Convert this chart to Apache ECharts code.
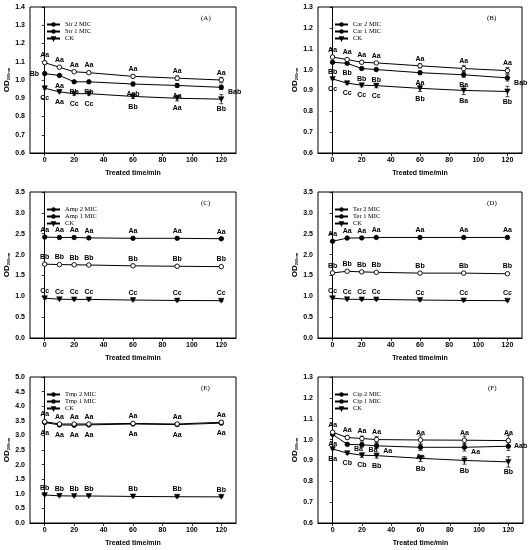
<!DOCTYPE html>
<html><head><meta charset="utf-8">
<script src="https://cdn.jsdelivr.net/npm/echarts@6/dist/echarts.min.js"></script>
<style>html,body{margin:0;padding:0;background:#fff}#c{width:529px;height:550px}</style>
</head><body><div id="c"></div>
<script>
// ---------- DATA ----------
const times = [0, 10, 20, 30, 60, 90, 120];
const xTicks = [0, 20, 40, 60, 80, 100, 120];
const panelTags = ['(A)', '(B)', '(C)', '(D)', '(E)', '(F)'];

// Panel A: Str
const A_names = ['Str 2 MIC', 'Str 1 MIC', 'CK'];
const A_mic2 = [1.035, 1.025, 0.99, 0.99, 0.978, 0.97, 0.96];
const A_mic1 = [1.095, 1.07, 1.045, 1.04, 1.02, 1.01, 1.0];
const A_ck   = [0.955, 0.935, 0.925, 0.925, 0.91, 0.9, 0.895];
const A_err2 = [0.004, 0.004, 0.005, 0.005, 0.01, 0.01, 0.012];
const A_err1 = [0.004, 0.004, 0.005, 0.005, 0.008, 0.012, 0.015];
const A_errCK= [0.004, 0.006, 0.008, 0.008, 0.012, 0.015, 0.025];
const A_lab2 = ['Bb', 'Aa', 'Bb', 'Bb', 'Aab', 'Aa', 'Bab'];
const A_lab1 = ['Aa', 'Aa', 'Aa', 'Aa', 'Aa', 'Aa', 'Aa'];
const A_labCK= ['Cc', 'Aa', 'Cc', 'Cc', 'Bb', 'Aa', 'Bb'];

// Panel B: Car
const B_names = ['Car 2 MIC', 'Car 1 MIC', 'CK'];
const B_mic2 = [1.035, 1.03, 1.005, 1.0, 0.985, 0.975, 0.96];
const B_mic1 = [1.06, 1.048, 1.035, 1.032, 1.018, 1.005, 0.995];
const B_ck   = [0.955, 0.935, 0.925, 0.923, 0.91, 0.9, 0.895];
const B_err2 = [0.004, 0.004, 0.005, 0.005, 0.008, 0.012, 0.015];
const B_err1 = [0.004, 0.004, 0.005, 0.005, 0.01, 0.015, 0.015];
const B_errCK= [0.004, 0.005, 0.008, 0.01, 0.015, 0.02, 0.025];
const B_lab2 = ['Bb', 'Bb', 'Bb', 'Bb', 'Aa', 'Ba', 'Bab'];
const B_lab1 = ['Aa', 'Aa', 'Aa', 'Aa', 'Aa', 'Aa', 'Aa'];
const B_labCK= ['Cc', 'Cc', 'Cc', 'Cc', 'Bb', 'Ba', 'Bb'];

// Panel C: Amp
const C_names = ['Amp 2 MIC', 'Amp 1 MIC', 'CK'];
const C_mic2 = [2.42, 2.41, 2.41, 2.40, 2.39, 2.39, 2.38];
const C_mic1 = [1.77, 1.76, 1.755, 1.75, 1.73, 1.72, 1.71];
const C_ck   = [0.955, 0.93, 0.925, 0.925, 0.91, 0.9, 0.895];
const C_err2 = [0.02, 0.02, 0.02, 0.02, 0.02, 0.02, 0.02];
const C_err1 = [0.02, 0.02, 0.02, 0.02, 0.02, 0.02, 0.02];
const C_errCK= [0.02, 0.02, 0.02, 0.02, 0.02, 0.02, 0.02];
const C_lab2 = ['Aa', 'Aa', 'Aa', 'Aa', 'Aa', 'Aa', 'Aa'];
const C_lab1 = ['Bb', 'Bb', 'Bb', 'Bb', 'Bb', 'Bb', 'Bb'];
const C_labCK= ['Cc', 'Cc', 'Cc', 'Cc', 'Cc', 'Cc', 'Cc'];

// Panel D: Ter
const D_names = ['Ter 2 MIC', 'Ter 1 MIC', 'CK'];
const D_mic2 = [2.32, 2.395, 2.40, 2.41, 2.41, 2.41, 2.41];
const D_mic1 = [1.56, 1.60, 1.585, 1.575, 1.555, 1.555, 1.54];
const D_ck   = [0.955, 0.93, 0.925, 0.925, 0.91, 0.9, 0.895];
const D_err2 = [0.02, 0.02, 0.02, 0.02, 0.02, 0.02, 0.02];
const D_err1 = [0.02, 0.02, 0.02, 0.02, 0.02, 0.02, 0.02];
const D_errCK= [0.02, 0.02, 0.02, 0.02, 0.02, 0.02, 0.02];
const D_lab2 = ['Aa', 'Aa', 'Aa', 'Aa', 'Aa', 'Aa', 'Aa'];
const D_lab1 = ['Bb', 'Bb', 'Bb', 'Bb', 'Bb', 'Bb', 'Bb'];
const D_labCK= ['Cc', 'Cc', 'Cc', 'Cc', 'Cc', 'Cc', 'Cc'];

// Panel E: Tmp
const E_names = ['Tmp 2 MIC', 'Tmp 1 MIC', 'CK'];
const E_mic2 = [3.44, 3.36, 3.35, 3.36, 3.39, 3.37, 3.42];
const E_mic1 = [3.47, 3.39, 3.39, 3.39, 3.41, 3.39, 3.45];
const E_ck   = [0.96, 0.93, 0.925, 0.925, 0.91, 0.9, 0.895];
const E_err2 = [0.03, 0.03, 0.03, 0.03, 0.03, 0.03, 0.03];
const E_err1 = [0.03, 0.03, 0.03, 0.03, 0.03, 0.03, 0.03];
const E_errCK= [0.02, 0.02, 0.02, 0.02, 0.02, 0.02, 0.02];
const E_lab2 = ['Aa', 'Aa', 'Aa', 'Aa', 'Aa', 'Aa', 'Aa'];
const E_lab1 = ['Aa', 'Aa', 'Aa', 'Aa', 'Aa', 'Aa', 'Aa'];
const E_labCK= ['Bb', 'Bb', 'Bb', 'Bb', 'Bb', 'Bb', 'Bb'];

// Panel F: Cip
const F_names = ['Cip 2 MIC', 'Cip 1 MIC', 'CK'];
const F_mic2 = [1.025, 0.977, 0.975, 0.97, 0.963, 0.963, 0.968];
const F_mic1 = [1.035, 1.01, 1.005, 1.0, 0.998, 0.997, 0.995];
const F_ck   = [0.955, 0.935, 0.925, 0.923, 0.91, 0.9, 0.893];
const F_err2 = [0.004, 0.006, 0.01, 0.012, 0.015, 0.018, 0.02];
const F_err1 = [0.004, 0.008, 0.012, 0.015, 0.02, 0.02, 0.025];
const F_errCK= [0.004, 0.006, 0.01, 0.012, 0.015, 0.018, 0.025];
const F_lab2 = ['Aa', 'Ba', 'Ba', 'Aa', 'Aa', 'Aa', 'Aab'];
const F_lab1 = ['Aa', 'Aa', 'Aa', 'Aa', 'Aa', 'Aa', 'Aa'];
const F_labCK= ['Ba', 'Cb', 'Cb', 'Bb', 'Bb', 'Bb', 'Bb'];

// ---------- LAYOUT / STYLE ----------
const T = n => Array(7).fill(n);
const panels = [
  { names: A_names, vals: [A_mic2, A_mic1, A_ck], errs: [A_err2, A_err1, A_errCK], labs: [A_lab2, A_lab1, A_labCK],
    pos: [['left','bottom','bottom','bottom','bottom','bottom','br'], T('top'), T('bottom')],
    y: [0.6, 1.4, 0.1], grid: { left: 30, top: 7, width: 206, height: 146 } },
  { names: B_names, vals: [B_mic2, B_mic1, B_ck], errs: [B_err2, B_err1, B_errCK], labs: [B_lab2, B_lab1, B_labCK],
    pos: [['bottom','bottom','bottom','bottom','bottom','bottom','br'], T('top'), T('bottom')],
    y: [0.6, 1.3, 0.1], grid: { left: 318, top: 7, width: 204, height: 146 } },
  { names: C_names, vals: [C_mic2, C_mic1, C_ck], errs: [C_err2, C_err1, C_errCK], labs: [C_lab2, C_lab1, C_labCK],
    pos: [T('top'), T('top'), T('top')],
    y: [0, 3.5, 0.5], grid: { left: 30, top: 192, width: 206, height: 146 } },
  { names: D_names, vals: [D_mic2, D_mic1, D_ck], errs: [D_err2, D_err1, D_errCK], labs: [D_lab2, D_lab1, D_labCK],
    pos: [T('top'), T('top'), T('top')],
    y: [0, 3.5, 0.5], grid: { left: 318, top: 192, width: 204, height: 146 } },
  { names: E_names, vals: [E_mic2, E_mic1, E_ck], errs: [E_err2, E_err1, E_errCK], labs: [E_lab2, E_lab1, E_labCK],
    pos: [T('bottom'), T('top'), T('top')],
    y: [0, 5.0, 0.5], grid: { left: 30, top: 377, width: 206, height: 146 } },
  { names: F_names, vals: [F_mic2, F_mic1, F_ck], errs: [F_err2, F_err1, F_errCK], labs: [F_lab2, F_lab1, F_labCK],
    pos: [['bottom','br','br','br','bottom','br','right'], T('top'), T('bottom')],
    y: [0.6, 1.3, 0.1], grid: { left: 318, top: 377, width: 205, height: 146 } }
];

const SANS = 'Liberation Sans, Arial, sans-serif';
const SERIF = 'Liberation Serif, Times New Roman, serif';
const triDown = 'path://M0,0 L10,0 L5,9 Z';
const symStyles = [
  { symbol: 'circle', symbolSize: 4.5, itemStyle: { color: '#000', borderColor: '#000', borderWidth: 0.8 } },
  { symbol: 'circle', symbolSize: 4.5, itemStyle: { color: '#fff', borderColor: '#000', borderWidth: 0.9 } },
  { symbol: triDown, symbolSize: [5.5, 5], itemStyle: { color: '#000', borderColor: '#000', borderWidth: 0.5 } }
];

function labelOpt(p) {
  if (p === 'br') return { position: 'right', offset: [-1, 5] };
  if (p === 'bottom') return { position: 'bottom', distance: 4 };
  if (p === 'top') return { position: 'top', distance: 1 };
  return { position: p, distance: 3 };
}

const option = {
  animation: false,
  backgroundColor: '#fff',
  grid: [], xAxis: [], yAxis: [], series: [], legend: [], title: []
};

panels.forEach((P, i) => {
  option.grid.push(Object.assign({ show: true, borderColor: '#000', borderWidth: 1, backgroundColor: 'transparent' }, P.grid));
  option.xAxis.push({
    type: 'value', gridIndex: i, min: -10, max: 130,
    name: 'Treated time/min', nameLocation: 'middle', nameGap: 17,
    nameTextStyle: { fontFamily: SANS, fontWeight: 'bold', fontSize: 7, color: '#000' },
    axisLine: { show: true, lineStyle: { color: '#000', width: 1 } },
    axisTick: { show: true, length: 3, customValues: xTicks, lineStyle: { color: '#000', width: 0.8 } },
    axisLabel: { customValues: xTicks, fontFamily: SANS, fontWeight: 'bold', fontSize: 7, color: '#000', margin: 4 },
    splitLine: { show: false }
  });
  option.yAxis.push({
    type: 'value', gridIndex: i, min: P.y[0], max: P.y[1], interval: P.y[2],
    name: 'OD{s|260nm}', nameLocation: 'middle', nameGap: 17,
    nameTextStyle: { fontFamily: SANS, fontWeight: 'bold', fontSize: 8, color: '#000',
      rich: { s: { fontFamily: SANS, fontWeight: 'bold', fontSize: 4, color: '#000', padding: [5, 0, 0, 0] } } },
    axisLine: { show: true, lineStyle: { color: '#000', width: 1 } },
    axisTick: { show: true, length: 3, lineStyle: { color: '#000', width: 0.8 } },
    axisLabel: { fontFamily: SANS, fontWeight: 'bold', fontSize: 7, color: '#000', margin: 5,
      formatter: v => v.toFixed(1) },
    splitLine: { show: false }
  });
  option.title.push({
    text: panelTags[i], left: P.grid.left + P.grid.width - 35, top: P.grid.top + 8,
    padding: 0,
    textStyle: { fontFamily: SERIF, fontWeight: 'normal', fontSize: 7, color: '#000' }
  });
  option.legend.push({
    data: P.names, orient: 'vertical', left: P.grid.left + 16, top: P.grid.top + 14,
    itemWidth: 13, itemHeight: 3, itemGap: 0, padding: 0, selectedMode: false,
    textStyle: { fontFamily: SERIF, fontSize: 6.5, color: '#000', lineHeight: 7 }
  });
  P.vals.forEach((vals, s) => {
    const errs = P.errs[s];
    // error bars
    option.series.push({
      type: 'custom', xAxisIndex: i, yAxisIndex: i, silent: true, z: 1,
      data: times.map((t, k) => [t, vals[k] - errs[k], vals[k] + errs[k]]),
      renderItem(params, api) {
        const lo = api.coord([api.value(0), api.value(1)]);
        const hi = api.coord([api.value(0), api.value(2)]);
        const w = 2, st = { stroke: '#000', lineWidth: 0.7 };
        return { type: 'group', children: [
          { type: 'line', shape: { x1: lo[0], y1: lo[1], x2: hi[0], y2: hi[1] }, style: st },
          { type: 'line', shape: { x1: lo[0] - w, y1: lo[1], x2: lo[0] + w, y2: lo[1] }, style: st },
          { type: 'line', shape: { x1: hi[0] - w, y1: hi[1], x2: hi[0] + w, y2: hi[1] }, style: st }
        ]};
      }
    });
    const labs = P.labs[s], pos = P.pos[s];
    option.series.push(Object.assign({
      type: 'line', name: P.names[s], xAxisIndex: i, yAxisIndex: i, z: 3,
      lineStyle: { color: '#000', width: 1 },
      label: { show: true, fontFamily: SANS, fontWeight: 'bold', fontSize: 7, color: '#000',
        formatter: p => labs[p.dataIndex] },
      data: times.map((t, k) => ({ value: [t, vals[k]], label: labelOpt(pos[k]) }))
    }, JSON.parse(JSON.stringify(symStyles[s]))));
  });
});

const chart = echarts.init(document.getElementById('c'), null, { renderer: 'canvas' });
chart.setOption(option);
</script>
</body></html>
